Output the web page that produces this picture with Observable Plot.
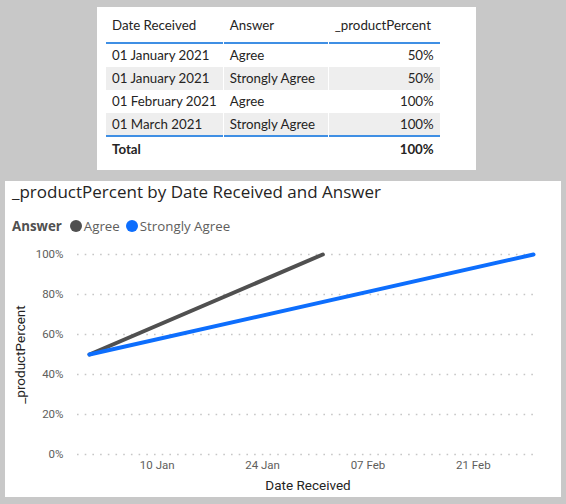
<!DOCTYPE html>
<html><head><meta charset="utf-8">
<script src="https://cdn.jsdelivr.net/npm/d3@7"></script>
<script src="https://cdn.jsdelivr.net/npm/@observablehq/plot@0.6"></script>
<style>
html,body{margin:0;padding:0;background:#c8c8c8;width:566px;height:504px;overflow:hidden;position:relative;}
#tablePanel{position:absolute;left:97px;top:7px;width:379px;height:163px;background:#fff;}
#tbl{position:absolute;left:8px;top:6px;border-collapse:separate;border-spacing:1px 0;font-family:"Segoe UI",Lato,"Liberation Sans",sans-serif;font-size:13.3px;color:#252423;}
#tbl th{font-weight:normal;text-align:left;height:31px;line-height:25px;padding:0 6px;border-bottom:2px solid #3f8fe4;vertical-align:top;box-sizing:border-box;}
#tbl td{height:23px;line-height:23px;padding:0 6px;white-space:nowrap;box-sizing:border-box;}
#tbl tr.alt td{background:#eeeeee;}
#tbl tr.last td{border-bottom:2px solid #3f8fe4;height:24px;line-height:22px;}
#tbl tr.total td{font-weight:bold;height:24px;line-height:24px;}
#tbl .num{text-align:right;}
#chartPanel{position:absolute;left:5px;top:181px;width:556px;height:316px;background:#fff;}
#title{position:absolute;left:7px;top:0px;font-family:"Segoe UI","Open Sans",sans-serif;font-size:17px;color:#252423;white-space:nowrap;line-height:22px;}
#legend{position:absolute;left:7px;top:36px;font-family:"Segoe UI","Open Sans",sans-serif;font-size:13.3px;color:#605e5c;display:flex;align-items:center;white-space:nowrap;line-height:18px;}
#legend b{color:#505050;margin-right:8px;}
#legend .sw{display:inline-block;width:12px;height:12px;border-radius:50%;margin-right:2px;}
#legend .it{display:flex;align-items:center;margin-right:6px;}
#plot{position:absolute;left:0;top:59px;}
</style></head>
<body>
<div id="tablePanel"><table id="tbl"></table></div>
<div id="chartPanel">
  <div id="title">_productPercent by Date Received and Answer</div>
  <div id="legend"></div>
  <div id="plot"></div>
</div>
<script>
// ---- data ----
const dateReceived = ["2021-01-01", "2021-01-01", "2021-02-01", "2021-03-01"];
const answers = ["Agree", "Strongly Agree", "Agree", "Strongly Agree"];
const productPercent = [0.5, 0.5, 1.0, 1.0];
const totalPercent = 1.0;
const answerCategories = ["Agree", "Strongly Agree"];
const answerColors = ["#505050", "#0d6efd"];
const xTickDates = ["2021-01-10", "2021-01-24", "2021-02-07", "2021-02-21"];
const xDomain = ["2021-01-01", "2021-03-01"];
const yTicks = [0, 0.2, 0.4, 0.6, 0.8, 1.0];
const tableHeaders = ["Date Received", "Answer", "_productPercent"];

const rows = dateReceived.map((d, i) => ({date: new Date(d), answer: answers[i], value: productPercent[i]}));
const pct = d3.format(".0%");

// ---- table ----
const tbl = d3.select("#tbl");
const hr = tbl.append("tr");
hr.selectAll("th").data(tableHeaders).join("th").text(d => d);
d3.select(hr.node().children[0]).style("width", "116px");
d3.select(hr.node().children[1]).style("width", "104px");
d3.select(hr.node().children[2]).style("width", "111px");
const fmtLong = d3.utcFormat("%d %B %Y");
rows.forEach((r, i) => {
  const tr = tbl.append("tr").attr("class", (i % 2 ? "alt" : "") + (i === rows.length - 1 ? " last" : ""));
  tr.append("td").text(fmtLong(r.date));
  tr.append("td").text(r.answer);
  tr.append("td").attr("class", "num").text(pct(r.value));
});
const tt = tbl.append("tr").attr("class", "total");
tt.append("td").text("Total");
tt.append("td").text("");
tt.append("td").attr("class", "num").text(pct(totalPercent));

// ---- legend ----
const lg = d3.select("#legend");
lg.append("b").text("Answer");
answerCategories.forEach((a, i) => {
  const it = lg.append("span").attr("class", "it");
  it.append("span").attr("class", "sw").style("background", answerColors[i]);
  it.append("span").text(a);
});

// ---- chart ----
const series = answerCategories.map(a => rows.filter(r => r.answer === a).sort((p, q) => p.date - q.date));
const fmtShort = d3.utcFormat("%d %b");
const chart = Plot.plot({
  width: 556,
  height: 257,
  marginTop: 14,
  marginBottom: 43,
  marginLeft: 72,
  marginRight: 23,
  style: {fontFamily: "Roboto, sans-serif", fontSize: "11.5px", color: "#605e5c", background: "transparent"},
  x: {type: "utc", domain: xDomain.map(d => new Date(d)), insetLeft: 12, insetRight: 5},
  y: {domain: [0, 1]},
  color: {domain: answerCategories, range: answerColors},
  marks: [
    Plot.gridY(yTicks, {stroke: "#c6c6c6", strokeOpacity: 1, strokeWidth: 1.6, strokeDasharray: "1.6,6.1"}),
    Plot.axisY(yTicks, {tickSize: 0, tickPadding: 14, tickFormat: pct, label: null}),
    Plot.axisX(xTickDates.map(d => new Date(d)), {tickSize: 0, tickPadding: 6, tickFormat: fmtShort, label: null}),
    Plot.text(["Date Received"], {frameAnchor: "bottom", dy: 31, lineAnchor: "middle", fill: "#252423", fontSize: 13.5, text: d => d}),
    Plot.text(["_productPercent"], {frameAnchor: "left", dx: -57, rotate: -90, textAnchor: "middle", lineAnchor: "middle", fill: "#252423", fontSize: 13.5, text: d => d}),
    ...series.map(s => Plot.line(s, {x: "date", y: "value", stroke: "answer", strokeWidth: 4, strokeLinecap: "round"}))
  ]
});
document.getElementById("plot").appendChild(chart);
</script>
</body></html>
